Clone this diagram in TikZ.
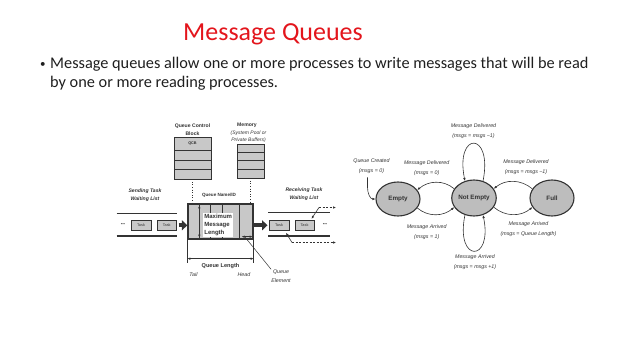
\documentclass[tikz,border=0pt]{standalone}
\usepackage{fontspec}
\setmainfont{Carlito}
\newfontfamily\figfont{Liberation Sans}
\usepackage{tikz}
\usetikzlibrary{arrows.meta,calc,shapes.geometric}
\definecolor{slidered}{HTML}{E3151C}
\definecolor{ink}{HTML}{333333}
\definecolor{panel}{HTML}{C8C8C8}
\definecolor{statefill}{HTML}{BDBDBD}

\begin{document}
\begin{tikzpicture}[x=1pt,y=-1pt,>=Latex,
  note/.style={font=\figfont\fontsize{5.3}{9.3}\selectfont\itshape,text=ink,align=center,inner sep=0pt},
  head/.style={font=\figfont\fontsize{5.1}{8.2}\selectfont\bfseries,text=ink,align=center,inner sep=0pt},
  headit/.style={head,font=\figfont\fontsize{5.1}{8.2}\selectfont\bfseries\itshape},
  cell/.style={draw=ink,fill=panel,line width=0.5pt,inner sep=0pt},
  taskbox/.style={cell,minimum width=19.5pt,minimum height=10.5pt,font=\figfont\fontsize{3.8}{4}\selectfont,text=ink},
  state/.style={ellipse,draw=ink,line width=1.1pt,fill=statefill,inner sep=0pt,font=\figfont\fontsize{6.3}{7}\selectfont\bfseries,text=ink},
  rail/.style={ink,line width=1.3pt},
  fat/.style={ink,line width=4pt,-{Triangle[length=5.5pt,width=10pt]}},
  trans/.style={->,ink,line width=0.6pt,>={Latex[length=3pt,width=2.6pt]}},
  dim/.style={<->,ink,line width=0.5pt,>={Latex[length=3pt,width=2.4pt]}},
  body/.style={anchor=base west,inner sep=0pt,text=black!88,font=\fontsize{16.3}{19}\selectfont}
]
\useasboundingbox (0,0) rectangle (638,359);
\node[anchor=base west,inner sep=0pt,text=slidered,font=\fontsize{26}{30}\selectfont] (title) at (183,40) {Message Queues};
\node[body,font=\fontsize{11}{12}\selectfont] (bullet) at (40,67) {•};
\node[body] (line1) at (50,68) {Message queues allow one or more processes to write messages that will be read};
\node[body] (line2) at (50,87) {by one or more reading processes.};

\node[head] (qcbhead) at (192.5,130) {Queue Control\\Block};
\node[cell,minimum width=37pt,minimum height=42pt] (qcb) at (192.5,158) {};
\node[font=\figfont\fontsize{3.8}{4}\selectfont\bfseries,text=ink] (qcblabel) at (192.5,144) {QCB};
\foreach \yy in {13.7,23.7,32.3}
  \draw[ink,line width=0.9pt] ($(qcb.north west)+(0,\yy)$) -- ($(qcb.north east)+(0,\yy)$);
\node[head] (memhead) at (247,125) {Memory};
\node[note,font=\figfont\fontsize{5}{7}\selectfont\itshape] (memnote) at (248.5,136.5) {(System Pool or\\Private Buffers)};
\node[cell,minimum width=27pt,minimum height=34pt] (mem) at (250.5,161) {};
\foreach \yy in {8.7,16.7,25.3}
  \draw[ink,line width=0.9pt] ($(mem.north west)+(0,\yy)$) -- ($(mem.north east)+(0,\yy)$);

\node[head,font=\figfont\fontsize{4.6}{6}\selectfont\bfseries] (qname) at (219,195) {Queue Name/ID};
\node[cell,line width=1.3pt,minimum width=65pt,minimum height=35pt] (queue) at (220.5,221.5) {};
\foreach \xx in {12,23,35,52}
  \draw[ink,line width=0.5pt] ($(queue.north west)+(\xx,0)$) -- ($(queue.south west)+(\xx,0)$);
\draw[dotted,ink,line width=0.6pt] (qcb.south) -- (qcb.south |- queue.north);
\draw[dotted,ink,line width=0.6pt] (mem.south) -- (mem.south |- queue.north);
\node[fill=white,inner sep=1.2pt,align=left,anchor=north west,font=\figfont\fontsize{6}{7.7}\selectfont\bfseries,text=ink] (maxlen) at (203,213) {Maximum\\Message\\Length};
\draw[dim] ($(queue.north west)+(12,2)$) -- ($(queue.south west)+(12,-2)$);
\draw[dim] ($(queue.south east)+(-12,-3)$) -- ($(queue.south east)+(-1,-3)$);
\draw[ink,line width=0.5pt] (queue.south west) -- ++(0,23);
\draw[ink,line width=0.5pt] (queue.south east) -- ++(0,23);
\draw[dim] ($(queue.south west)+(0,19)$) -- ($(queue.south east)+(0,19)$);
\node[head,font=\figfont\fontsize{5.6}{7}\selectfont\bfseries] (qlen) at (220.5,266) {Queue Length};
\node[note] (tail) at (193.5,274.5) {Tail};
\node[note] (headlbl) at (244,274.5) {Head};
\node[note] (qelem) at (281,276) {Queue\\Element};
\draw[ink,line width=0.5pt] (qelem.north west) -- ($(queue.south east)+(-9,-3)$);

\node[headit] (sendhead) at (145,195.5) {Sending Task\\Waiting List};
\draw[rail] (116.7,213.3) -- (177.3,213.3);
\draw[rail] (116.7,236) -- (177.3,236);
\node[taskbox] (stask1) at (141,225.3) {Task};
\node[taskbox] (stask2) at (166.7,225.3) {Task};
\node[font=\figfont\fontsize{4}{4}\selectfont,text=ink] (sdots) at (123,225) {•••};
\draw[fat] ($(stask2.east)+(2,0)$) -- (stask2.east -| queue.west);

\node[headit] (recvhead) at (304,194) {Receiving Task\\Waiting List};
\draw[rail] (268.3,212.7) -- (330,212.7);
\draw[rail] (268.3,236) -- (330,236);
\node[taskbox] (rtask1) at (279,225.3) {Task};
\node[taskbox] (rtask2) at (304.5,225.3) {Task};
\node[font=\figfont\fontsize{4}{4}\selectfont,text=ink] (rdots) at (325,225) {•••};
\draw[fat] (queue.east |- rtask1) -- ($(rtask1.west)+(-1.5,0)$);
\coordinate (tout) at (319,207.5);
\coordinate (bout) at (292,242.5);
\draw[trans,dash pattern=on 2pt off 1.5pt] (tout) -- ++(17,0);
\draw[trans] (tout) -- ($(rtask2.north east)+(-3,-1)$);
\draw[trans,dash pattern=on 2pt off 1.5pt] (bout) -- ++(44,0);
\draw[trans] (bout) -- ($(rtask1.south east)+(-3,2)$);

\node[state,minimum width=44pt,minimum height=34pt] (empty) at (398,199) {Empty};
\node[state,minimum width=43pt,minimum height=36pt] (notempty) at (474,198) {Not Empty};
\node[state,minimum width=44pt,minimum height=36pt] (full) at (552,198) {Full};
\node[note] (qcreated) at (371.5,166) {Queue Created\\(msgs = 0)};
\node[note] (deliv0) at (426.7,168) {Message Delivered\\(msgs = 0)};
\node[note] (arr1) at (426.7,232) {Message Arrived\\(msgs = 1)};
\node[note] (delivloop) at (473.5,131) {Message Delivered\\(msgs = msgs −1)};
\node[note] (arrloop) at (475,262) {Message Arrived\\(msgs = msgs +1)};
\node[note] (delivfull) at (526,167) {Message Delivered\\(msgs = msgs −1)};
\node[note] (arrfull) at (528.5,229) {Message Arrived\\(msgs = Queue Length)};
\draw[trans] ($(qcreated.south)+(-4,4)$) -- ++(0,10) to[out=-90,in=180] (empty.west);
\draw[trans] (notempty.155) to[out=140,in=40] (empty.25);
\draw[trans] (empty.-25) to[out=-40,in=-140] (notempty.-155);
\draw[trans] (full.155) to[out=140,in=40] (notempty.25);
\draw[trans] (notempty.-25) to[out=-40,in=-140] (full.-155);
\draw[trans] (notempty.62) .. controls +(10,-50) and +(-10,-50) .. (notempty.118);
\draw[trans] (notempty.-118) .. controls +(-10,48) and +(10,48) .. (notempty.-62);
\end{tikzpicture}
\end{document}
